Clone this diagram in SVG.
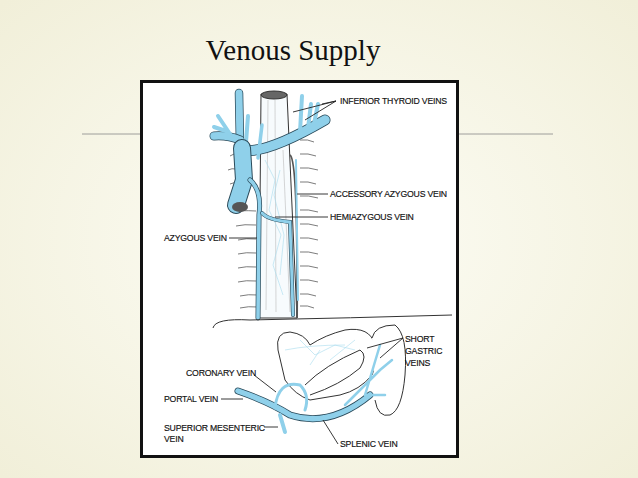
<svg xmlns="http://www.w3.org/2000/svg" width="638" height="478" viewBox="0 0 638 478">
<defs>
<radialGradient id="bg" cx="50%" cy="50%" r="70%"><stop offset="0" stop-color="#fdfdf6"/><stop offset="1" stop-color="#f1efd9"/></radialGradient>
<style>
.lbl{font-family:"Liberation Sans",Arial,sans-serif;font-size:8.7px;fill:#111;letter-spacing:-0.2px;stroke:#111;stroke-width:0.15}
.ld{stroke:#222;stroke-width:0.9;fill:none}
.v{stroke:#8fd0ea;fill:none;stroke-linecap:round}
.vd{stroke:#2a4a5a;fill:none;stroke-linecap:round}
.o{stroke:#333;stroke-width:1;fill:none}
.r{stroke:#444;stroke-width:0.7;fill:none}
.cap{stroke:#a8dcef;stroke-width:0.6;fill:none}
</style>
</defs>
<rect width="638" height="478" fill="url(#bg)"/>
<text x="293" y="60" text-anchor="middle" font-family="Liberation Serif,serif" font-size="29" fill="#111">Venous Supply</text>
<line x1="82" y1="134" x2="141" y2="134" stroke="#888" stroke-width="0.8"/>
<line x1="458" y1="134" x2="553" y2="134" stroke="#888" stroke-width="0.8"/>
<rect x="141.5" y="81.5" width="316" height="375" fill="#fff" stroke="#111" stroke-width="3"/>
<!-- ribs -->
<g class="r">
<path d="M234 142q4-3 10-2M230 156q4-3 8-2M228 170q4-2 8-1M230 184q4-2 8-1M232 198q4-2 6-1M234 212q6-2 22-1M236 226q8-2 20-1M238 240q8-2 18-1M238 254q8-2 18-1M238 268q8-2 18-1M238 282q8-2 18-1M240 296q8-2 18-1M240 308q8-2 18-1"/>
<path d="M300 140q8-1 14 2M300 154q8-1 16 2M300 168q8-1 18 2M300 182q8-1 16 2M300 196q8-1 18 2M300 210q8-1 18 2M300 224q8-1 18 2M300 238q8-1 18 2M300 252q8-1 18 2M300 266q8-1 18 2M300 280q8-1 18 2M300 294q8-1 16 2M300 306q8-1 14 2"/>
</g>
<!-- esophagus -->
<path d="M261 94 L259 318 L297 318 L287 94 Z" fill="#f7fbfd" stroke="#333" stroke-width="1"/>
<ellipse cx="274" cy="95" rx="13" ry="4" fill="#666" stroke="#333"/>
<path d="M268 100 L266 310 M275 100 L276 312 M283 150 L290 312" stroke="#bbb" stroke-width="0.6" fill="none"/>
<path d="M290 155 Q298 160 297 318" stroke="#555" stroke-width="2" fill="none"/>
<g class="cap"><path d="M265 160 l10 20 l-6 30 l12 25 l-8 30 l10 30 M280 170 l-6 25 l10 40 l-4 40"/></g>
<!-- upper veins -->
<g id="veins-upper">
<path d="M239 93 L240 145" class="vd" stroke-width="8.5"/>
<path d="M239 93 L240 145" class="v" stroke-width="7"/>
<path d="M242 150 Q265 155 325 120" class="vd" stroke-width="11"/>
<path d="M242 150 Q265 155 325 120" class="v" stroke-width="9.5"/>
<path d="M240 140 Q228 135 214 136" class="vd" stroke-width="9"/>
<path d="M240 140 Q228 135 214 136" class="v" stroke-width="7.5"/>
<path d="M230 134 L218 116 M226 131 L214 127" class="v" stroke-width="4"/>
<path d="M246 142 L248 116" class="v" stroke-width="4"/>
<path d="M300 132 L302 96 M308 128 L311 104 M314 124 L318 104" class="v" stroke-width="4"/>
<path d="M258 158 L262 125" class="v" stroke-width="3.5"/>
<path d="M242 148 L244 180 L236 205" class="vd" stroke-width="18"/>
<path d="M242 148 L244 180 L236 205" class="v" stroke-width="16"/>
<ellipse cx="240" cy="207" rx="8" ry="5" fill="#555"/>
<!-- azygos -->
<path d="M250 180 Q262 190 259 215 L258 318" class="vd" stroke-width="5"/>
<path d="M250 180 Q262 190 259 215 L258 318" class="v" stroke-width="3.6"/>
<path d="M262 213 Q268 220 290 222 L293 315" class="vd" stroke-width="4"/>
<path d="M262 213 Q268 220 290 222 L293 315" class="v" stroke-width="2.8"/>
<path d="M296 160 L298 300" class="v" stroke-width="2"/>
</g>
<!-- diaphragm -->
<path d="M213 328 Q215 318 250 320 Q350 318 452 315" class="o"/>
<!-- stomach -->
<g id="stomach">
<path d="M278 350 Q275 332 290 332 Q305 334 310 345 Q325 335 345 330 Q370 326 375 345 Q378 365 372 375 Q360 390 340 395 L310 400 Q295 395 285 380 Z" fill="#fff" stroke="#333"/>
<path d="M305 385 Q325 365 360 350 Q368 355 360 368 Q340 385 310 395" fill="#fff" stroke="#333"/>
<path d="M372 338 Q375 325 395 325 Q408 335 405 375 Q402 410 390 415 Q378 418 375 400" fill="#fff" stroke="#333"/>
<g class="cap"><path d="M285 350 Q310 345 345 345 M300 340 l15 15 l20 -10 l20 5 M330 360 l25 -20 M320 350 l-10 15"/></g>
</g>
<g id="veins-lower">
<path d="M238 391 Q270 402 290 415 Q330 428 370 395" class="vd" stroke-width="7"/>
<path d="M238 391 Q270 402 290 415 Q330 428 370 395" class="v" stroke-width="5.5"/>
<path d="M275 408 Q278 380 300 385 Q310 395 305 410" class="v" stroke-width="3"/>
<path d="M280 415 L285 432" class="v" stroke-width="4"/>
<path d="M345 405 L380 370 L392 360 M365 395 L385 395 M365 395 L380 345" class="v" stroke-width="2.5"/>
</g>
<!-- labels -->
<g id="labels">
<path class="ld" d="M336 101 L293 112 M336 101 L305 120 M336 101 L322 104"/>
<text class="lbl" x="340" y="104">INFERIOR THYROID VEINS</text>
<path class="ld" d="M297 194 H328"/>
<text class="lbl" x="330" y="197">ACCESSORY AZYGOUS VEIN</text>
<path class="ld" d="M275 217 H328"/>
<text class="lbl" x="330" y="220">HEMIAZYGOUS VEIN</text>
<path class="ld" d="M229 238 H257"/>
<text class="lbl" x="164" y="241">AZYGOUS VEIN</text>
<path class="ld" d="M403 338 L367 348 M403 338 L380 358"/>
<text class="lbl" x="405" y="342">SHORT</text>
<text class="lbl" x="405" y="354">GASTRIC</text>
<text class="lbl" x="405" y="366">VEINS</text>
<path class="ld" d="M254 375 L276 392"/>
<text class="lbl" x="186" y="376">CORONARY VEIN</text>
<path class="ld" d="M221 399 H243"/>
<text class="lbl" x="164" y="402">PORTAL VEIN</text>
<path class="ld" d="M264 427 H278"/>
<text class="lbl" x="164" y="431">SUPERIOR MESENTERIC</text>
<text class="lbl" x="164" y="442">VEIN</text>
<path class="ld" d="M338 444 L323 420"/>
<text class="lbl" x="340" y="447">SPLENIC VEIN</text>
</g>
</svg>
